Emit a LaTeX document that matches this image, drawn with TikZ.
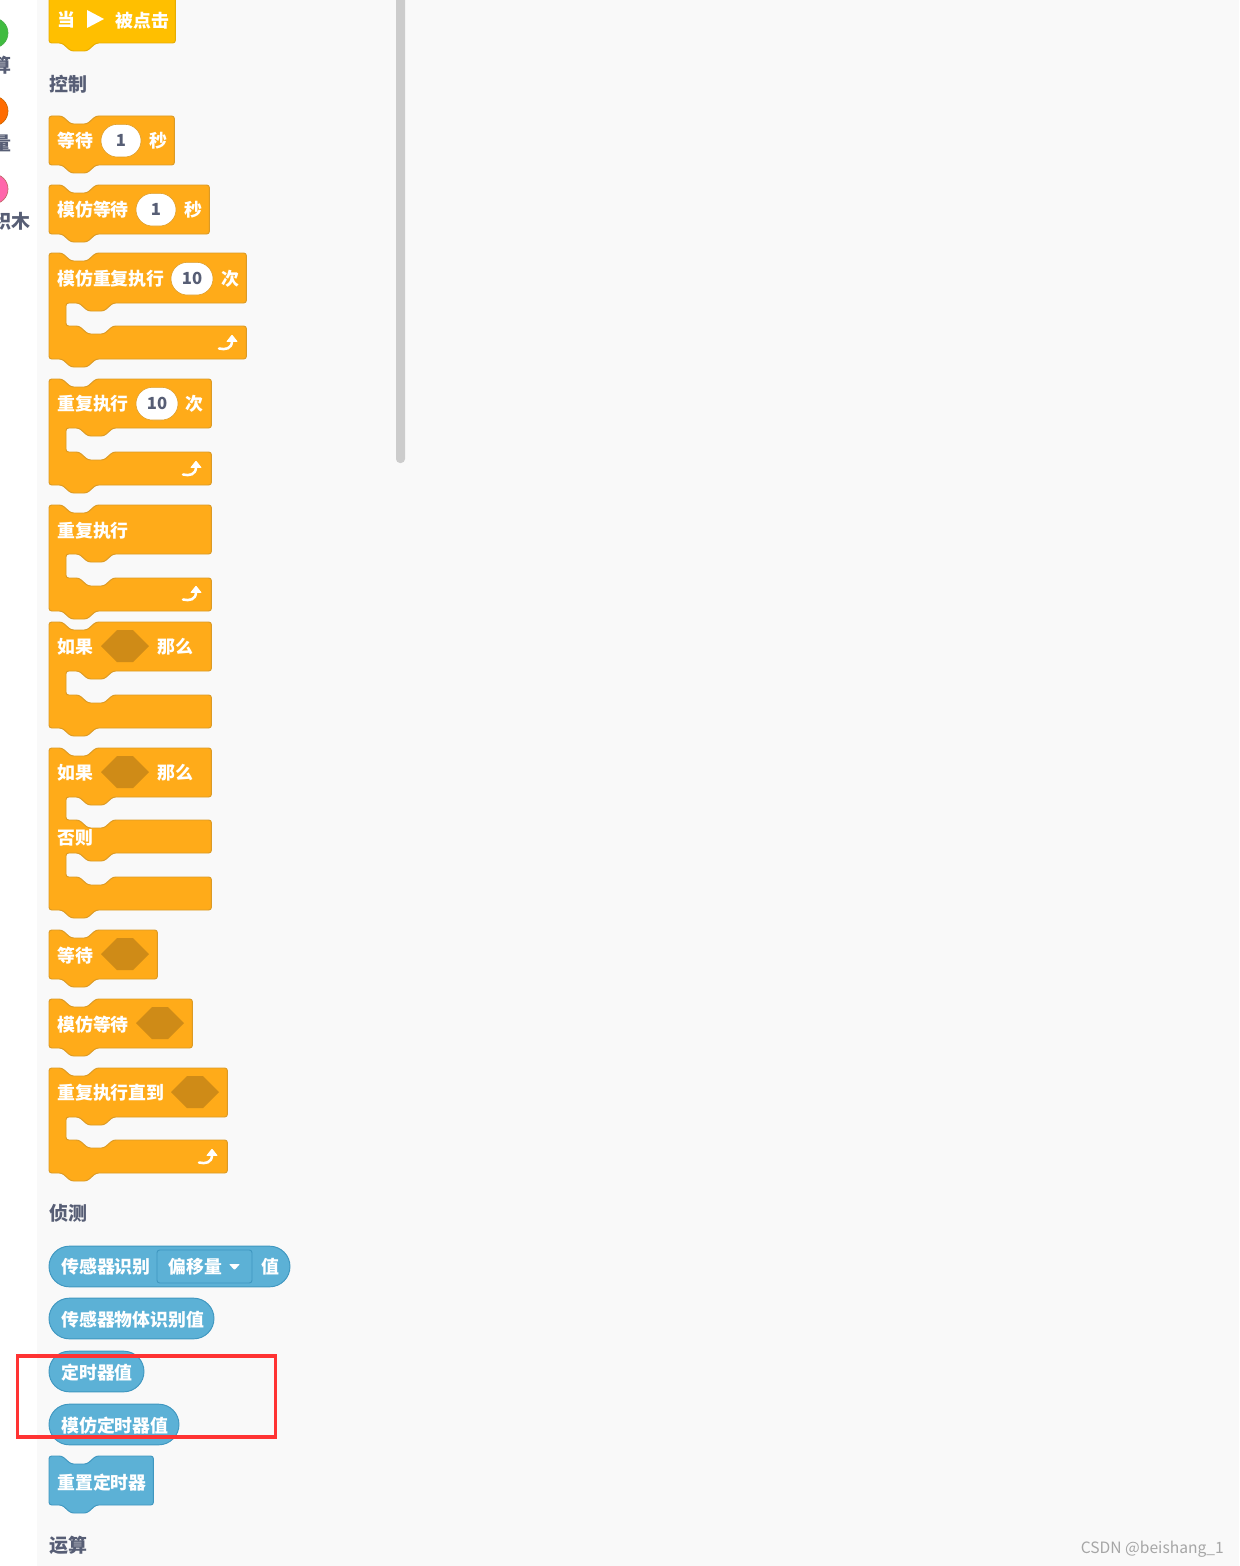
\documentclass[tikz,border=0pt]{standalone}
\usepackage{fontspec}
\setmainfont{Noto Sans CJK SC}
\usetikzlibrary{shapes.misc,positioning}
\definecolor{panel}{HTML}{F9F9F9}
\definecolor{ink}{HTML}{575E75}
\definecolor{ctrlfill}{HTML}{FFAB19}
\definecolor{ctrledge}{HTML}{DB9A25}
\definecolor{evfill}{HTML}{FFBF00}
\definecolor{evedge}{HTML}{E6AC00}
\definecolor{sensfill}{HTML}{5CB1D6}
\definecolor{sensedge}{HTML}{3F97C0}
\definecolor{slot}{HTML}{CF8B17}
\tikzset{
  ctrl/.style={draw=ctrledge,fill=ctrlfill,line width=0.7pt,rounded corners=2pt},
  sens/.style={draw=sensedge,fill=sensfill,line width=0.7pt,rounded corners=2pt},
  lab/.style={font=\bfseries\fontsize{13.4}{13.4}\selectfont,text=white,inner sep=0pt,anchor=west,yshift=-0.9pt},
  head/.style={font=\bfseries\fontsize{14.2}{14.2}\selectfont,text=ink,inner sep=0pt,anchor=west},
  numin/.style={rounded rectangle,fill=white,draw=ctrledge,line width=0.4pt,text=ink,font=\bfseries\fontsize{12.5}{12.5}\selectfont,inner sep=0pt,minimum height=24.5pt,minimum width=#1*0.75pt,yshift=-0.5pt},
  report/.style={rounded rectangle,draw=sensedge,fill=sensfill,line width=0.7pt,inner sep=0pt,minimum height=30.5pt,minimum width=#1*0.75pt},
  cat/.style={circle,line width=0.5pt,minimum size=22.5pt,inner sep=0pt}
}
% notches, all relative
\newcommand{\topnotch}[2]{-- (#1+13,#2) -- ++(9,8) -- ++(16,0) -- ++(9,-8)}
\newcommand{\bottab}[2]{-- (#1+47,#2) -- ++(-9,8) -- ++(-16,0) -- ++(-9,-8)}
\newcommand{\mouth}[3]{-- (#1+64,#2) -- ++(-9,8) -- ++(-16,0) -- ++(-9,-8) -- (#1+17,#2) -- (#1+17,#3) -- (#1+30,#3) -- ++(9,8) -- ++(16,0) -- ++(9,-8)}
% x, y, right, bottom
\newcommand{\stackblock}[5]{\draw[#1] (#2,#3) \topnotch{#2}{#3} -- (#4-0.6,#3) -- (#4-0.6,#5) \bottab{#2}{#5} -- (#2,#5) -- cycle;}
% x, y, right, arm bottom, lower arm top, bottom
\newcommand{\cblock}[6]{\draw[ctrl] (#1,#2) \topnotch{#1}{#2} -- (#3-0.6,#2) -- (#3-0.6,#4) \mouth{#1}{#4}{#5} -- (#3-0.6,#5) -- (#3-0.6,#6) \bottab{#1}{#6} -- (#1,#6) -- cycle;}
\newcommand{\hexslot}[2]{\fill[slot] (#1,#2) -- ++(16,-16) -- ++(16,0) -- ++(16,16) -- ++(-16,16) -- ++(-16,0) -- cycle;}
\newcommand{\looparrow}[2]{%
  \draw[white,line width=1.9pt,line cap=round] (#1-9,#2+5.5) .. controls (#1-3,#2+7) and (#1+4,#2+6) .. (#1+4,#2-2);
  \fill[white,rounded corners=0.5pt] (#1+4,#2-8.5) -- (#1+9.8,#2-1.2) -- (#1-1.8,#2-1.2) -- cycle;}
\begin{document}
\begin{tikzpicture}[x=0.75pt,y=-0.75pt]
    \useasboundingbox (0,0) rectangle (1239,1566);
    \fill[white] (0,0) rectangle (37,1566);
    \fill[panel] (37,0) rectangle (1239,1566);
    \fill[black!20,rounded corners=3pt] (396,-10) rectangle (405,463);

    % category column
    \node (c1) [cat,draw=green!55!black!70,fill=green!65!black!75] at (-7,33) {};
    \node (c2) [cat,draw=orange!80!black,fill=orange!85!red] at (-7,111) {};
    \node (c3) [cat,draw=red!60!black!60,fill=red!55!magenta!60!white] at (-7,189) {};
    \node (l1) [head,anchor=east] at (11.5,65) {算};
    \node (l2) [head,anchor=east] at (11.5,143) {量};
    \node (l3) [head,anchor=east] at (30.5,221.5) {积木};

    % hat
    \draw[ctrl,draw=evedge,fill=evfill] (49,-8) -- (175.4,-8) -- (175.4,43) \bottab{49}{43} -- (49,43) -- cycle;
    \node (h1) [lab] at (57,19) {当};
    \fill[white] (87,10) -- (104,19) -- (87,28) -- cycle;
    \node (h2) [lab] at (115,19) {被点击};

    \node (t1) [head] at (49,84) {控制};

    % wait
    \stackblock{ctrl}{49}{116}{175}{165}
    \node (a1) [lab] at (57,139.5) {等待};
    \node (a2) [numin=40] at (121,140) {1};
    \node (a3) [lab] at (149,139.5) {秒};

    \stackblock{ctrl}{49}{185}{210}{234}
    \node (b1) [lab] at (57,208.5) {模仿等待};
    \node (b2) [numin=40] at (156,209) {1};
    \node (b3) [lab] at (184,208.5) {秒};

    % repeat
    \cblock{49}{253}{247}{303}{326}{359}
    \node (d1) [lab] at (57,277.5) {模仿重复执行};
    \node (d2) [numin=42] at (192,278) {10};
    \node (d3) [lab] at (221,277.5) {次};
    \looparrow{228}{343}

    \cblock{49}{379}{212}{428}{452}{485}
    \node (e1) [lab] at (57,403) {重复执行};
    \node (e2) [numin=42] at (157,403) {10};
    \node (e3) [lab] at (185,403) {次};
    \looparrow{192}{469}

    \cblock{49}{505}{212}{554}{578}{611}
    \node (f1) [lab] at (57,529.5) {重复执行};
    \looparrow{192}{594}

    % if
    \cblock{49}{622}{212}{671}{695}{728}
    \node (g1) [lab] at (57,646) {如果};
    \hexslot{101}{646}
    \node (g2) [lab] at (157,646) {那么};

    \draw[ctrl] (49,748) \topnotch{49}{748} -- (211.4,748) -- (211.4,797) \mouth{49}{797}{820} -- (211.4,820) -- (211.4,853) \mouth{49}{853}{877} -- (211.4,877) -- (211.4,910) \bottab{49}{910} -- (49,910) -- cycle;
    \node (i1) [lab] at (57,772) {如果};
    \hexslot{101}{772}
    \node (i2) [lab] at (157,772) {那么};
    \node (i3) [lab] at (57,837) {否则};

    % wait until
    \stackblock{ctrl}{49}{930}{158}{979}
    \node (j1) [lab] at (57,954) {等待};
    \hexslot{101}{954}

    \stackblock{ctrl}{49}{999}{193}{1048}
    \node (k1) [lab] at (57,1023) {模仿等待};
    \hexslot{136}{1023}

    \cblock{49}{1068}{228}{1117}{1140}{1173}
    \node (m1) [lab] at (57,1092) {重复执行直到};
    \hexslot{171}{1092}
    \looparrow{208}{1157}

    \node (t2) [head] at (49,1213) {侦测};

    % sensing
    \node (n0) [report=241] at (169.5,1266.5) {};
    \node (n1) [lab] at (61,1265.5) {传感器识别};
    \draw[sens] (157,1250) rectangle (252,1283);
    \node (n2) [lab] at (168,1265.5) {偏移量};
    \fill[white,rounded corners=0.6pt] (229,1264) -- (240,1264) -- (234.5,1270) -- cycle;
    \node (n3) [lab] at (261,1265.5) {值};

    \node (o0) [report=165] at (131.5,1318.5) {};
    \node (o1) [lab] at (61,1318.5) {传感器物体识别值};

    \node (p0) [report=95] at (96.5,1371.5) {};
    \node (p1) [lab] at (61,1371) {定时器值};

    \node (q0) [report=130] at (114,1424.5) {};
    \node (q1) [lab] at (61,1424) {模仿定时器值};

    \stackblock{sens}{49}{1456}{154}{1505}
    \node (r1) [lab] at (57,1481) {重置定时器};

    \node (t3) [head] at (49,1545) {运算};

    % highlight
    \draw[red!80!white,line width=2.5pt] (17.5,1356) rectangle (275.5,1437);

    \node (w) [anchor=east,inner sep=0pt,text=black!35,font=\fontsize{11.7}{11.7}\selectfont] at (1224,1549) {CSDN @beishang\_1};
\end{tikzpicture}
\end{document}
